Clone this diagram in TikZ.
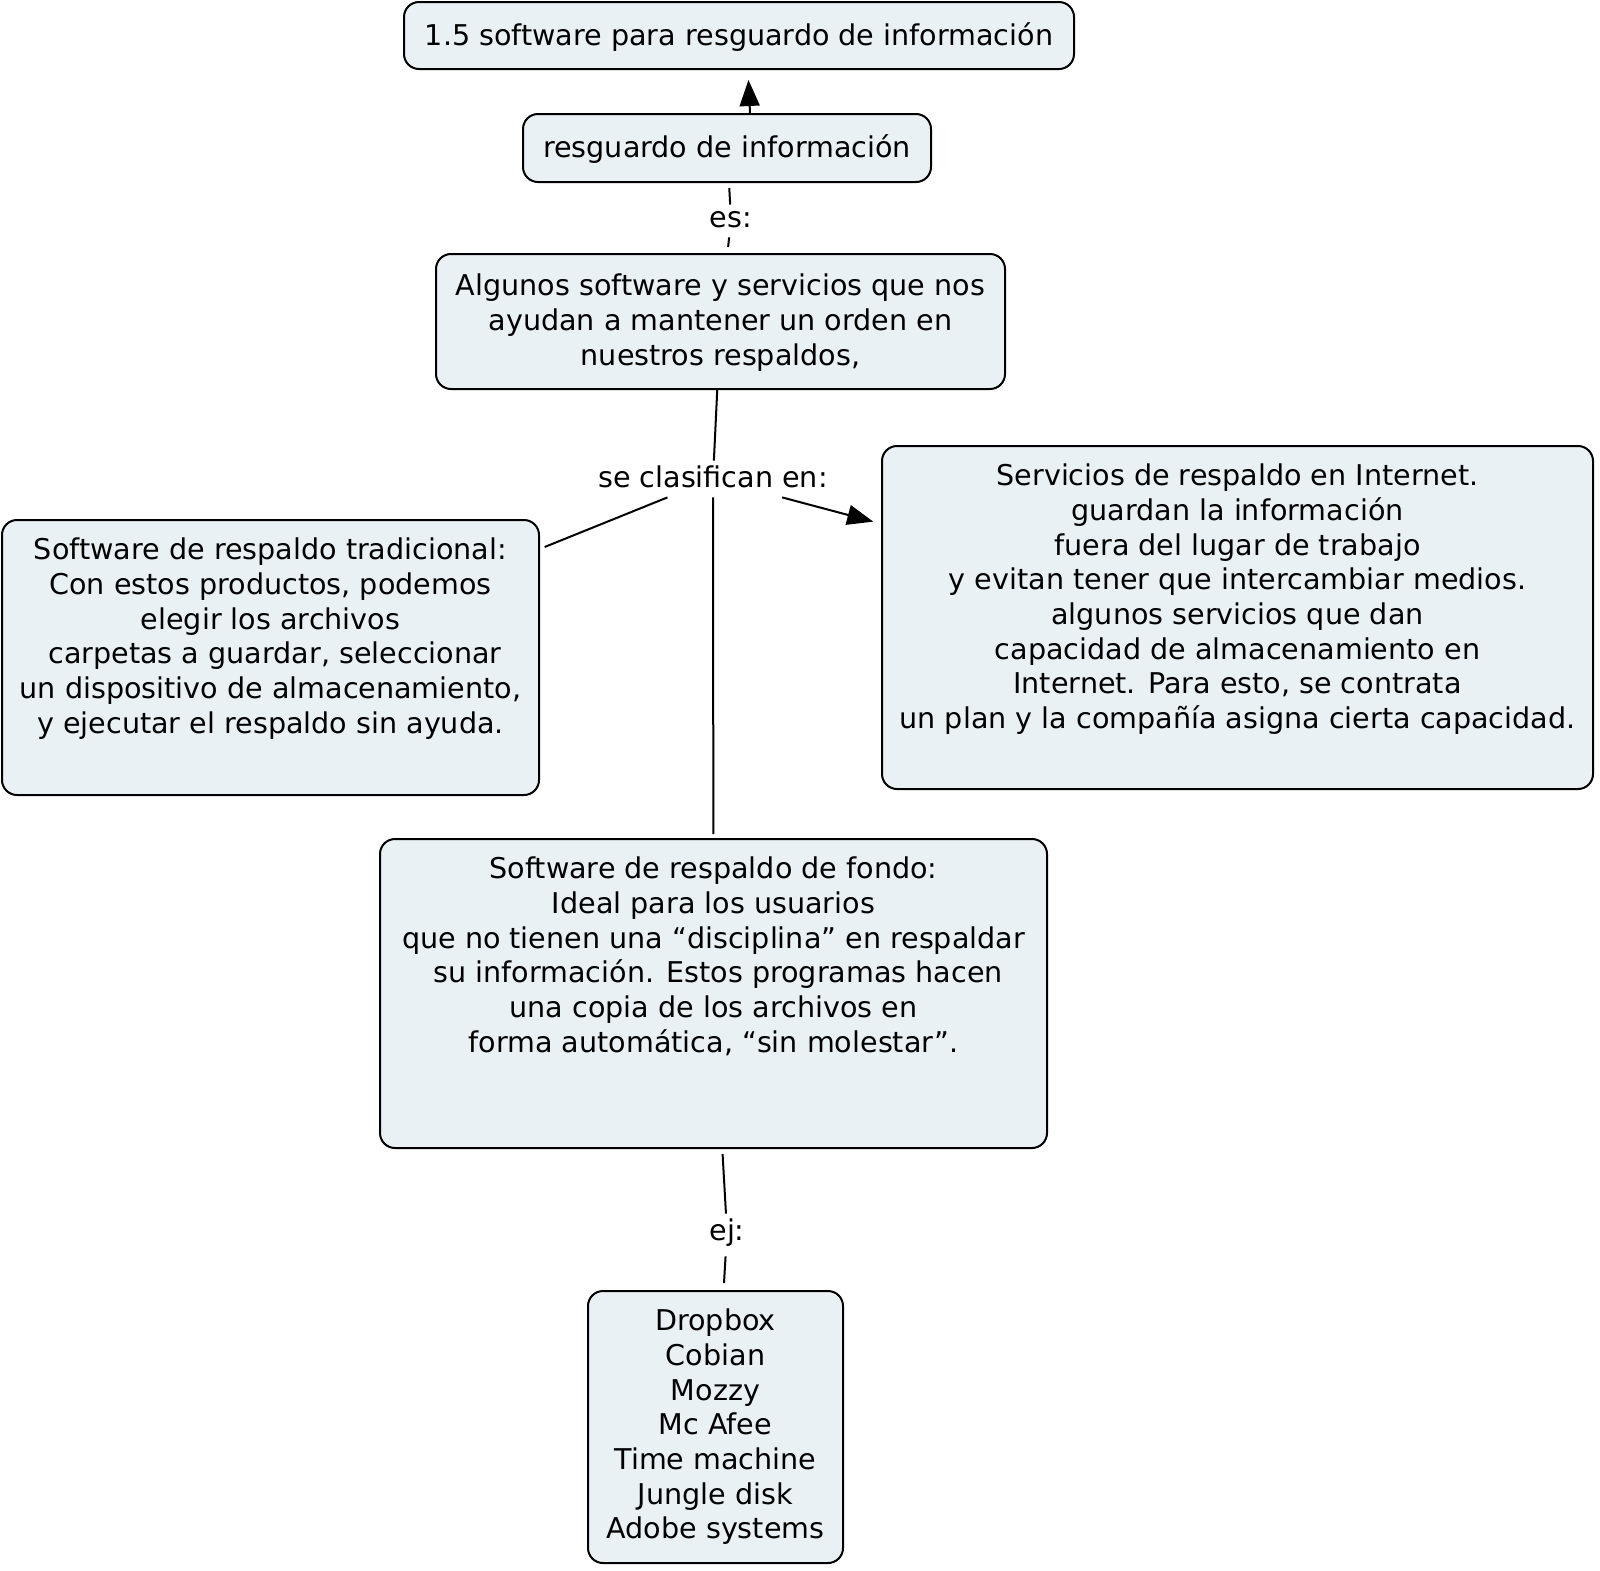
\documentclass[tikz,border=0pt]{standalone}
\usepackage{fontspec}
\setmainfont{DejaVu Sans}
\usetikzlibrary{arrows.meta}
\definecolor{ConceptFill}{HTML}{EAF1F4}
\newcommand{\ctext}[4][9pt]{\begin{minipage}[c][#3][t]{#2}\centering\vspace*{#1}#4\end{minipage}}
\tikzset{
  concept/.style={draw, line width=1pt, rounded corners=7.5pt, fill=ConceptFill, inner sep=0pt},
  linking/.style={inner sep=2pt, text height=11pt, text depth=3pt},
  link/.style={line width=1pt},
  linkarrow/.style={line width=1pt, -{Triangle[length=13pt,width=10pt]}}
}
\begin{document}
\begin{tikzpicture}[x=0.5pt, y=-0.5pt, font=\fontsize{14.3}{17.35}\selectfont]
  \useasboundingbox (0,0) rectangle (1600,1570);
  % concepts
  \node[concept] (title) at (739,35.5)
    {\ctext[10.5pt]{335pt}{33.5pt}{1.5 software para resguardo de información}};
  \node[concept] (resg) at (727,148)
    {\ctext[10.5pt]{204pt}{34pt}{resguardo de información}};
  \node[concept] (alg) at (720.5,321.5)
    {\ctext[10pt]{284.5pt}{67.5pt}{Algunos software y servicios que nos\\
      ayudan a mantener un orden en\\ nuestros respaldos,}};
  \node[concept] (trad) at (270.5,657.5)
    {\ctext{268.5pt}{137.5pt}{Software de respaldo tradicional:\\
      Con estos productos, podemos\\ elegir los archivos\\
      \ carpetas a guardar, seleccionar\\ un dispositivo de almacenamiento,\\
      y ejecutar el respaldo sin ayuda.}};
  \node[concept] (inet) at (1237.5,617.5)
    {\ctext{355.5pt}{171.5pt}{Servicios de respaldo en Internet.\\
      guardan la información\\ fuera del lugar de trabajo\\
      y evitan tener que intercambiar medios.\\ algunos servicios que dan\\
      capacidad de almacenamiento en\\ Internet. Para esto, se contrata\\
      un plan y la compañía asigna cierta capacidad.}};
  \node[concept] (fondo) at (713.5,993.5)
    {\ctext{333.5pt}{154.5pt}{Software de respaldo de fondo:\\
      Ideal para los usuarios\\ que no tienen una “disciplina” en respaldar\\
      \ su información. Estos programas hacen\\ una copia de los archivos en\\
      forma automática, “sin molestar”.}};
  \node[concept] (drop) at (715.5,1427)
    {\ctext{127.5pt}{136pt}{Dropbox\\ Cobian\\ Mozzy\\ Mc Afee\\
      Time machine\\ Jungle disk\\ Adobe systems}};
  % linking phrases
  \node[linking] (es) at (731,219) {es:};
  \node[linking] (cls) at (713,479) {se clasifican en:};
  \node[linking] (ej) at (727,1232) {ej:};
  % connectors
  \draw[linkarrow, shorten >=5pt] ([xshift=11.5pt]resg.north) -- ([xshift=4.5pt]title.south);
  \draw[link, shorten <=2.5pt, shorten >=-2pt] (resg) -- (es);
  \draw[link, shorten >=3pt] (es) -- (alg);
  \draw[link] (alg) -- (cls);
  \draw[link, shorten >=2.5pt] (cls) -- (trad);
  \draw[linkarrow, shorten >=4pt] (cls) -- (inet);
  \draw[link, shorten >=2pt] (cls) -- (fondo);
  \draw[link, shorten <=2.5pt] (fondo) -- (ej);
  \draw[link, shorten <=3pt, shorten >=3.5pt] (ej) -- (drop);
\end{tikzpicture}
\end{document}
